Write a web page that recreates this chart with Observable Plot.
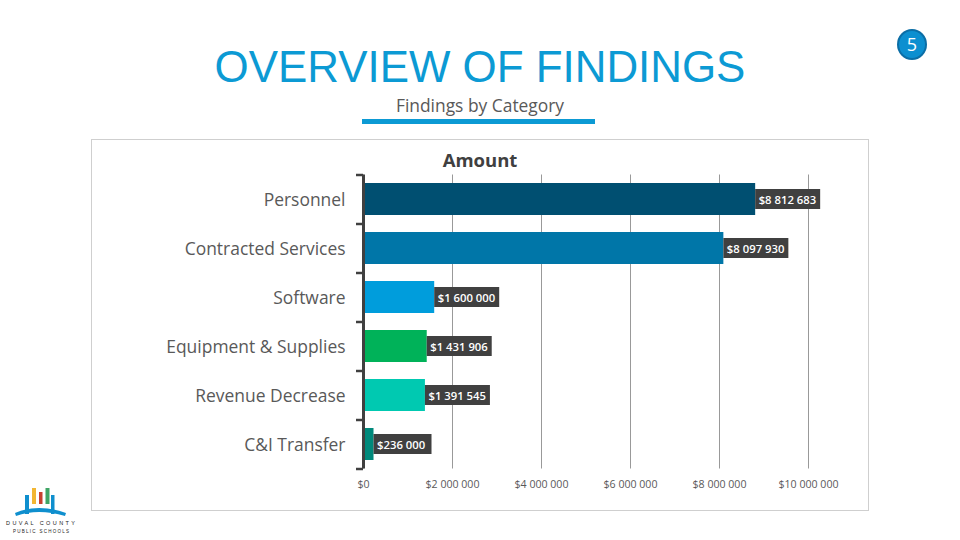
<!DOCTYPE html>
<html><head><meta charset="utf-8">
<script src="https://cdn.jsdelivr.net/npm/d3@7"></script>
<script src="https://cdn.jsdelivr.net/npm/@observablehq/plot@0.6"></script>
<style>
html,body{margin:0;padding:0;background:#fff}
#page{position:relative;width:960px;height:540px;overflow:hidden;background:#fff}
.abs{position:absolute}
#title{left:0;width:960px;top:39px;text-align:center;font:43.9px "Liberation Sans",Arial,sans-serif;color:#0c9ad4;line-height:56px;white-space:nowrap}
#sub{left:0;width:960px;top:93px;text-align:center;font:17.4px "Open Sans",sans-serif;color:#595959;line-height:24px}
#rule{left:362px;top:119px;width:233px;height:5px;background:#0c9ad4}
#frame{left:91px;top:139px;width:776px;height:370px;border:1px solid #cfcfcf}
#plot{left:91px;top:139px}
#amount{left:91px;width:778px;top:148px;text-align:center;font:bold 18.5px "Open Sans",sans-serif;color:#404040;line-height:24px}
#badge{left:897px;top:29px;width:30px;height:31px;border-radius:50%;background:#0c8fd0;border:2px solid #0b6ea6;box-sizing:border-box;color:#fff;font:18px "Open Sans",sans-serif;line-height:27px;text-align:center}
#logo{left:4px;top:484px}
</style></head><body>
<div id="page">
<div class="abs" id="title">OVERVIEW OF FINDINGS</div>
<div class="abs" id="sub">Findings by Category</div>
<div class="abs" id="rule"></div>
<div class="abs" id="frame"></div>
<div class="abs" id="plot"></div>
<div class="abs" id="amount">Amount</div>
<div class="abs" id="badge">5</div>
<svg class="abs" id="logo" width="74" height="52" viewBox="0 0 74 52">
<rect x="28" y="4" width="4" height="16" fill="#f2b632"/>
<rect x="35" y="8" width="3.5" height="12" fill="#c8402f"/>
<rect x="41.5" y="4" width="4" height="16" fill="#3fa565"/>
<rect x="21" y="11" width="4" height="19" fill="#0f8fce"/>
<rect x="47" y="11" width="3.5" height="19" fill="#0f8fce"/>
<path d="M11 29 Q34 19 62 29 L61 32 Q34 24 12 32 Z" fill="#0f8fce"/>
<text x="2" y="41" textLength="69" lengthAdjust="spacing" font-family="Liberation Sans" font-size="5.5" fill="#222">DUVAL COUNTY</text>
<text x="9" y="49" textLength="56" lengthAdjust="spacing" font-family="Liberation Sans" font-size="4.5" fill="#222">PUBLIC SCHOOLS</text>
</svg>
</div>
<script>
const categories = ["Personnel","Contracted Services","Software","Equipment & Supplies","Revenue Decrease","C&I Transfer"];
const amounts = [8812683,8097930,1600000,1431906,1391545,236000];
const colors = ["#004f71","#0076a8","#009ddc","#00b259","#00c9b1","#00897b"];
const xTicks = [0,2000000,4000000,6000000,8000000,10000000];
const longLabels = categories.filter((c,i)=>amounts[i]>=1000000);
const shortLabels = categories.filter((c,i)=>amounts[i]<1000000);

const rows = categories.map((c,i)=>({category:c,amount:amounts[i],color:colors[i]}));
const fmt = v => "$" + d3.format(",")(v).replace(/,/g," ");
const dark = "#404040";

const chart = Plot.plot({
  width: 778, height: 371,
  marginLeft: 272, marginRight: 61, marginTop: 35.5, marginBottom: 41.5,
  style: {background:"transparent", overflow:"visible"},
  x: {domain:[0,10000000], label:null},
  y: {domain:categories, paddingInner:0.35, paddingOuter:0.175, label:null},
  marks: [
    Plot.ruleX(xTicks, {stroke:"#999", strokeWidth:1}),
    Plot.barX(rows, {x:"amount", y:"category", fill:"color", insetLeft:1}),
    Plot.barX(rows.filter(r=>longLabels.includes(r.category)), {x1:"amount", x2:"amount", y:"category", fill:dark, insetRight:-65, insetTop:6, insetBottom:6}),
    Plot.barX(rows.filter(r=>shortLabels.includes(r.category)), {x1:"amount", x2:"amount", y:"category", fill:dark, insetRight:-58, insetTop:6, insetBottom:6}),
    Plot.text(rows, {x:"amount", y:"category", text:d=>fmt(d.amount), dx:3, dy:0.5, textAnchor:"start", fill:"#fff", fontSize:11.3, fontWeight:600, fontFamily:"Open Sans"}),
    Plot.ruleX([0], {stroke:"#404040", strokeWidth:3}),
    Plot.ruleY(categories, {y:d=>d, x1:0, x2:0, insetLeft:-7, dy:-24.5, stroke:"#404040", strokeWidth:2.5}),
    Plot.ruleY(categories.slice(-1), {y:d=>d, x1:0, x2:0, insetLeft:-7, dy:24.5, stroke:"#404040", strokeWidth:2.5}),
    Plot.axisY({tickSize:0, tickPadding:18, dy:1, label:null, fontSize:17.45, fontFamily:"Open Sans", fill:"#595959"}),
    Plot.axisX({ticks:xTicks, tickFormat:fmt, tickSize:0, tickPadding:11, label:null, fontSize:10.6, fontFamily:"Open Sans", fill:"#595959"})
  ]
});
document.getElementById("plot").appendChild(chart);
</script>
</body></html>
